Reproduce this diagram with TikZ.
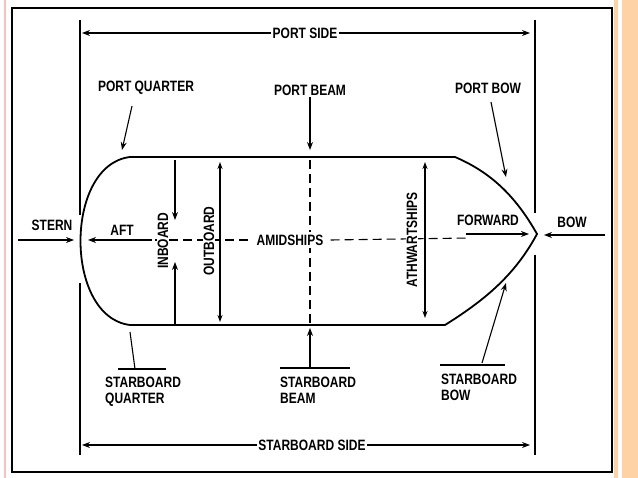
\documentclass[tikz,border=0pt]{standalone}
\usepackage{fontspec}
\setmainfont{Liberation Sans}[FakeStretch=0.8]
\usetikzlibrary{arrows.meta}

\begin{document}
\begin{tikzpicture}[x=1pt,y=-1pt,
  every node/.style={font=\fontsize{15}{15.5}\selectfont\bfseries, inner sep=1pt},
  hull/.style={line width=1.8pt},
  flow/.style={-{Stealth[length=8pt,width=6pt]}, line width=1.1pt},
  both/.style={{Stealth[length=7pt,width=5pt]}-{Stealth[length=7pt,width=5pt]}, line width=1.1pt},
  mid/.style={line width=1.1pt, dash pattern=on 9pt off 5pt},
  bar/.style={line width=2.2pt}]

% Frame and page border
\useasboundingbox (0,0) rectangle (638,478);
\fill[orange!35] (614,0) rectangle (638,478);
\fill[white] (618,0) rectangle (622,478);
\draw[red!25, line width=1.5pt] (5,0) -- (5,478);
\draw[line width=1.5pt] (12,8) rectangle (612,472);

% Hull outline
\coordinate (q1) at (130,157);
\coordinate (q2) at (130,325);
\coordinate (b1) at (455,157);
\coordinate (b2) at (445,325);
\coordinate (nose) at (537,234);
\draw[hull] (b1) -- (q1) .. controls (64,165) and (64,317) .. (q2) -- (b2)
  .. controls (485,300) and (515,275) .. (nose) .. controls (515,195) and (490,172) .. (b1);

% Side limits
\draw[line width=1.1pt] (80,20) -- (80,215) (80,283) -- (80,455);
\draw[line width=1.1pt] (535,20) -- (535,213) (535,255) -- (535,455);

\node (portside) at (305,33) {PORT SIDE};
\coordinate (ps1) at (82,33); \coordinate (ps2) at (530,33);
\draw[flow] (portside) -- (ps1);
\draw[flow] (portside) -- (ps2);
\node (sbside) at (312,445) {STARBOARD SIDE};
\coordinate (ss1) at (82,445); \coordinate (ss2) at (530,445);
\draw[flow] (sbside) -- (ss1);
\draw[flow] (sbside) -- (ss2);

% Port labels
\node (pquarter) at (146,88) {PORT QUARTER};
\coordinate (pq) at (122,150);
\draw[flow] (132,106) -- (pq);
\node (pbeam) at (310,90) {PORT BEAM};
\coordinate (pb) at (310,150);
\draw[flow] (pbeam) -- (pb);
\node (pbow) at (488,88) {PORT BOW};
\coordinate (pw) at (506,177);
\draw[flow] (491,102) -- (pw);

% Starboard labels
\node[align=left, anchor=north west] (squarter) at (104,376) {STARBOARD\\QUARTER};
\draw[bar] (118,369) -- (166,369);
\coordinate (sq) at (130,332);
\draw[line width=1.1pt] (135,369) -- (sq);
\node[align=left, anchor=north west] (sbeam) at (279,376) {STARBOARD\\BEAM};
\draw[bar] (280,368) -- (350,368);
\coordinate (sb) at (310,328);
\draw[flow] (310,368) -- (sb);
\node[align=left, anchor=north west] (sbow) at (440,373) {STARBOARD\\BOW};
\draw[bar] (440,365) -- (505,365);
\coordinate (sw) at (506,283);
\draw[flow] (482,363) -- (sw);

% Athwartships
\draw[mid] (310,160) -- (310,325);
\draw[flow] (175,160) -- (175,220);
\draw[flow] (175,325) -- (175,262);
\draw[both] (220,162) -- (220,322);
\draw[both] (425,162) -- (425,318);

% Fore and aft
\node (stern) at (52,225) {STERN};
\coordinate (st) at (74,240);
\draw[flow] (18,240) -- (st);
\node (aft) at (122,230) {AFT};
\coordinate (af) at (88,240);
\draw[flow] (152,240) -- (af);
\node[fill=white, inner xsep=7pt, inner ysep=3pt] (amid) at (290,240) {AMIDSHIPS};
\draw[mid] (155,240) -- (amid.west);
\draw[mid] (amid.east) -- (470,238);
\node (fwd) at (488,220) {FORWARD};
\coordinate (fw) at (529,234);
\draw[flow, line width=2.2pt] (466,234) -- (fw);
\node (bow) at (572,222) {BOW};
\coordinate (bw) at (544,235);
\draw[flow] (605,235) -- (bw);

\node[rotate=90, fill=white] (inb) at (163,241) {INBOARD};
\node[rotate=90, fill=white] (outb) at (209,241) {OUTBOARD};
\node[rotate=90, fill=white] (athw) at (412,240) {ATHWARTSHIPS};
\end{tikzpicture}
\end{document}
